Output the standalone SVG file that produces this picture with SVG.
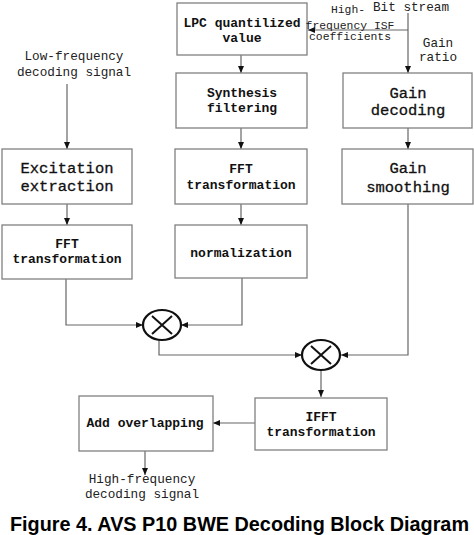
<svg xmlns="http://www.w3.org/2000/svg" width="474" height="535" viewBox="0 0 474 535">
<style>
.box{fill:#fff;stroke:#808080;stroke-width:1.3}
.t{font-family:"Liberation Mono",monospace;font-size:13px;font-weight:bold;fill:#111;text-anchor:middle}
.tl{font-family:"Liberation Mono",monospace;font-size:15.5px;fill:#111;text-anchor:middle;stroke:#111;stroke-width:0.3}
.lbl{font-family:"Liberation Mono",monospace;font-size:12.7px;fill:#222;text-anchor:middle}
.sm{font-family:"Liberation Mono",monospace;font-size:11.4px;fill:#222;text-anchor:middle}
.c{fill:none;stroke:#666;stroke-width:1.2}
.m{fill:#fff;stroke:#111;stroke-width:2.2}
.cap{font-family:"Liberation Sans",Arial,sans-serif;font-size:20px;font-weight:bold;fill:#000}
</style>
<defs>
<marker id="a" markerWidth="8" markerHeight="8" refX="7" refY="4" orient="auto" markerUnits="userSpaceOnUse">
<path d="M0,1 L7,4 L0,7 Z" fill="#111"/>
</marker>
</defs>
<rect width="474" height="535" fill="#fff"/>
<g id="connectors">
<path class="c" d="M408,13 V73" marker-end="url(#a)"/>
<path class="c" d="M408,30 H308" marker-end="url(#a)"/>
<path class="c" d="M67,84 V149" marker-end="url(#a)"/>
<path class="c" d="M241,55 V73" marker-end="url(#a)"/>
<path class="c" d="M241,128 V149" marker-end="url(#a)"/>
<path class="c" d="M408,128 V149" marker-end="url(#a)"/>
<path class="c" d="M67,204 V225" marker-end="url(#a)"/>
<path class="c" d="M241,204 V225" marker-end="url(#a)"/>
<path class="c" d="M66,279 V325 H143" marker-end="url(#a)"/>
<path class="c" d="M242,278 V325 H181" marker-end="url(#a)"/>
<path class="c" d="M408,204 V355 H341" marker-end="url(#a)"/>
<path class="c" d="M159,340 V355 H302" marker-end="url(#a)"/>
<path class="c" d="M321,370 V397" marker-end="url(#a)"/>
<path class="c" d="M255,423 H213" marker-end="url(#a)"/>
<path class="c" d="M145,451 V475" marker-end="url(#a)"/>
</g>
<g id="lpc"><rect class="box" x="177" y="3" width="130" height="52"/>
<text class="t" x="242" y="27">LPC quantilized</text><text class="t" x="242" y="42">value</text></g>
<g id="synthesis"><rect class="box" x="176" y="73" width="131" height="55"/>
<text class="t" x="242" y="97">Synthesis</text><text class="t" x="242" y="112">filtering</text></g>
<g id="gaindec"><rect class="box" x="343" y="73" width="129" height="55"/>
<text class="tl" x="408" y="98">Gain</text><text class="tl" x="408" y="115">decoding</text></g>
<g id="excitation"><rect class="box" x="2" y="149" width="130" height="55"/>
<text class="tl" x="67" y="173">Excitation</text><text class="tl" x="67" y="191">extraction</text></g>
<g id="fftmid"><rect class="box" x="175" y="149" width="132" height="55"/>
<text class="t" x="241" y="173">FFT</text><text class="t" x="241" y="189">transformation</text></g>
<g id="gainsmooth"><rect class="box" x="342" y="149" width="131" height="55"/>
<text class="tl" x="408" y="173">Gain</text><text class="tl" x="408" y="192">smoothing</text></g>
<g id="fftleft"><rect class="box" x="2" y="225" width="130" height="54"/>
<text class="t" x="67" y="248">FFT</text><text class="t" x="67" y="263">transformation</text></g>
<g id="normalization"><rect class="box" x="175" y="225" width="132" height="53"/>
<text class="t" x="241" y="257">normalization</text></g>
<g id="mult1"><ellipse class="m" cx="162" cy="325" rx="19" ry="15"/>
<path d="M152,316 L172,334 M172,316 L152,334" stroke="#111" stroke-width="2"/></g>
<g id="mult2"><ellipse class="m" cx="321" cy="355" rx="19" ry="15"/>
<path d="M311,346 L331,364 M331,346 L311,364" stroke="#111" stroke-width="2"/></g>
<g id="ifft"><rect class="box" x="255" y="398" width="132" height="52"/>
<text class="t" x="321" y="421">IFFT</text><text class="t" x="321" y="436">transformation</text></g>
<g id="addoverlap"><rect class="box" x="79" y="396" width="134" height="55"/>
<text class="t" x="145" y="427">Add overlapping</text></g>
<g id="labels">
<text class="lbl" x="411" y="11">Bit stream</text>
<text class="sm" x="348" y="13">High-</text>
<text class="sm" x="350" y="29">frequency ISF</text>
<text class="sm" x="350" y="40">coefficients</text>
<text class="lbl" x="438" y="47">Gain</text>
<text class="lbl" x="438" y="61">ratio</text>
<text class="lbl" x="74" y="60">Low-frequency</text>
<text class="lbl" x="74" y="76">decoding signal</text>
<text class="lbl" x="142" y="483" font-size="12">High-frequency</text>
<text class="lbl" x="142" y="498" font-size="12">decoding signal</text>
</g>
<text class="cap" x="10" y="531" textLength="459" lengthAdjust="spacingAndGlyphs">Figure 4. AVS P10 BWE Decoding Block Diagram</text>
</svg>
